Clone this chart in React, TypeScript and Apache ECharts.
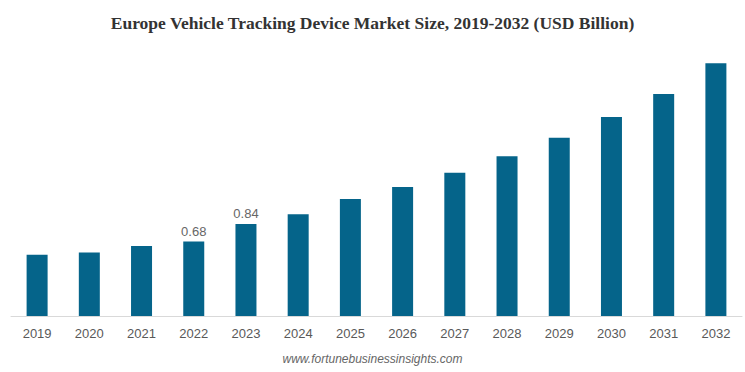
import React, { useEffect, useRef } from "react";
import * as echarts from "echarts";

const years = ["2019","2020","2021","2022","2023","2024","2025","2026","2027","2028","2029","2030","2031","2032"];
const values = [0.56, 0.58, 0.64, 0.68, 0.84, 0.93, 1.07, 1.18, 1.31, 1.46, 1.63, 1.82, 2.03, 2.31];
const labeledYears = ["2022", "2023"];

const titleText = "Europe Vehicle Tracking Device Market Size, 2019-2032 (USD Billion)";
const sourceText = "www.fortunebusinessinsights.com";

export default function App() {
  const ref = useRef<HTMLDivElement>(null);
  useEffect(() => {
    if (!ref.current) return;
    const chart = echarts.init(ref.current, undefined, { renderer: "svg" });
    chart.setOption({
      animation: false,
      title: {
        text: titleText,
        left: "center",
        top: 9,
        textStyle: {
          fontFamily: "Liberation Serif",
          fontWeight: "bold",
          fontSize: 17.5,
          color: "#333333",
        },
      },
      graphic: [
        {
          type: "text",
          left: "center",
          top: 353,
          style: {
            text: sourceText,
            font: "italic 12px 'Liberation Sans', Arial, sans-serif",
            fill: "#666666",
          },
        },
      ],
      grid: { left: 11, right: 3, top: 42.5, bottom: 56, containLabel: false },
      xAxis: {
        type: "category",
        data: years,
        axisLine: { show: true, lineStyle: { color: "#d9d9d9", width: 1 } },
        axisTick: { show: false },
        axisLabel: {
          color: "#595959",
          fontSize: 13,
          fontFamily: "'Liberation Sans', Arial, sans-serif",
          margin: 11,
        },
      },
      yAxis: {
        type: "value",
        min: 0,
        max: 2.5,
        show: false,
        splitLine: { show: false },
      },
      series: [
        {
          type: "bar",
          barWidth: 21,
          itemStyle: { color: "#05648a" },
          data: values.map((v, i) => ({
            value: v,
            label: {
              show: labeledYears.includes(years[i]),
              position: "top",
              color: "#666666",
              fontSize: 13,
              fontFamily: "'Liberation Sans', Arial, sans-serif",
              distance: 4,
              formatter: (p: any) => p.value.toFixed(2),
            },
          })),
        },
      ],
    });
    return () => chart.dispose();
  }, []);
  return <div ref={ref} style={{ width: 745, height: 372, position: "absolute", left: 0, top: 0 }} />;
}
